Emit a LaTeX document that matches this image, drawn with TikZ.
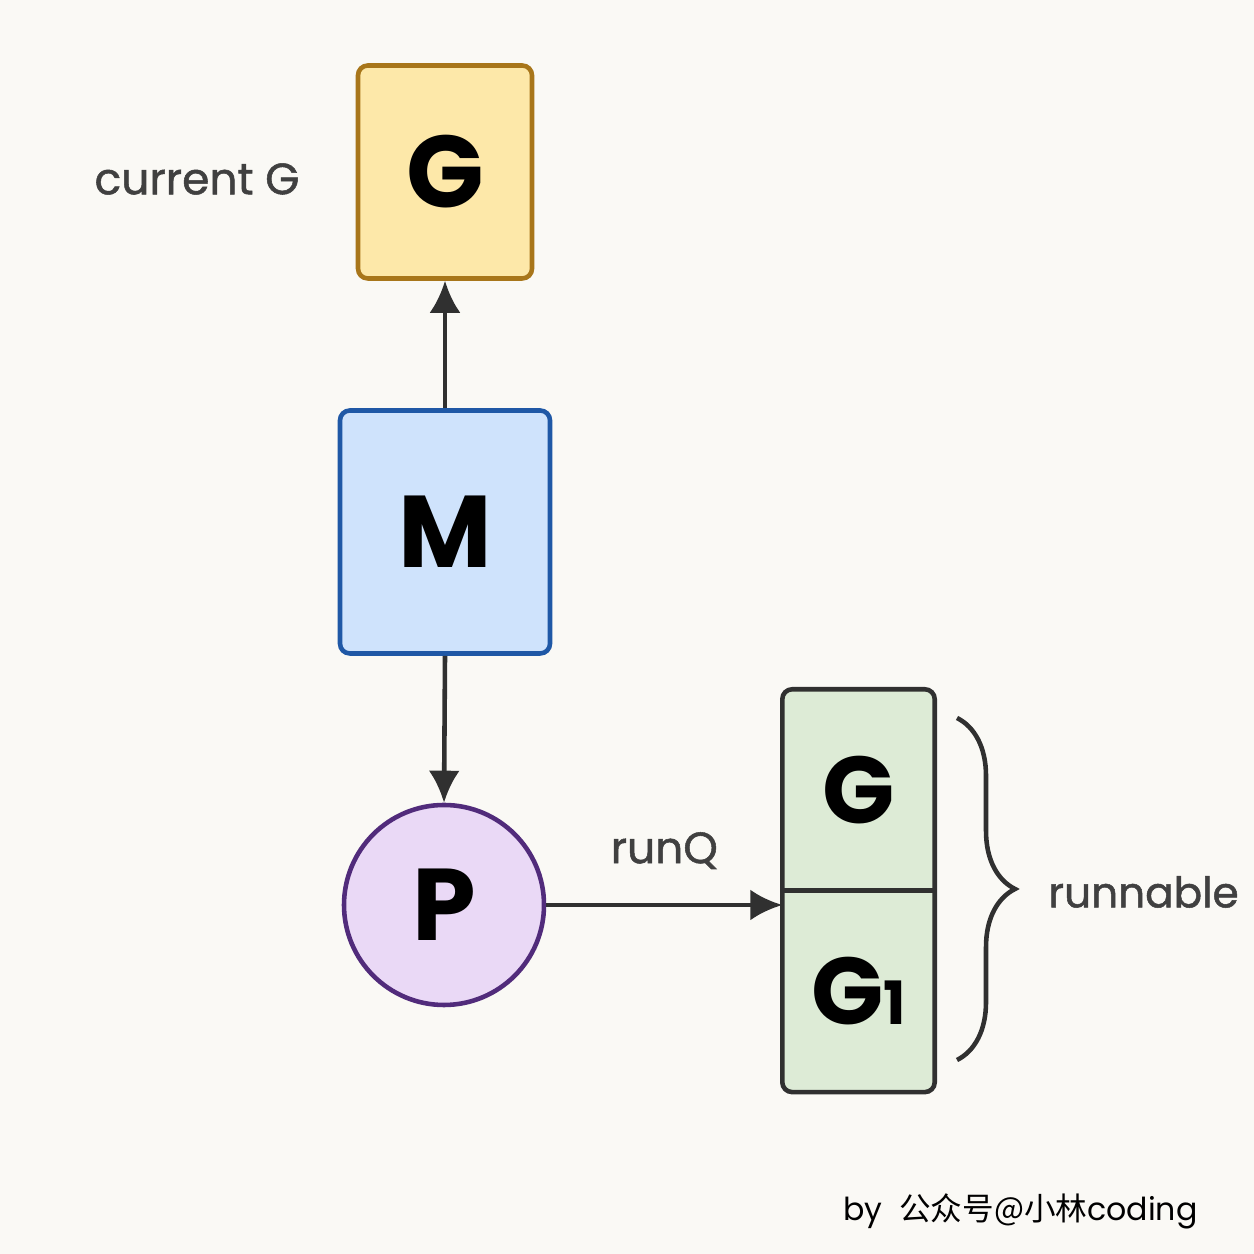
\documentclass[tikz,border=0pt]{standalone}
\usepackage{fontspec}
\setmainfont{Poppins}
\newfontfamily\lblfont{Poppins}[FakeBold=1.2]
\newfontfamily\cjk{Noto Sans CJK SC}
\usetikzlibrary{arrows.meta,positioning,calc,backgrounds,decorations.pathreplacing}
\definecolor{paper}{HTML}{FAF9F5}
\definecolor{gfill}{HTML}{FDE8A9}
\definecolor{gline}{HTML}{A8761A}
\definecolor{mfill}{HTML}{CFE3FC}
\definecolor{mline}{HTML}{1F58A6}
\definecolor{pfill}{HTML}{EAD9F6}
\definecolor{pline}{HTML}{512B7B}
\definecolor{qfill}{HTML}{DDEBD6}
\definecolor{ink}{HTML}{303030}
\definecolor{txt}{HTML}{404040}

\begin{document}
\begin{tikzpicture}[
      box/.style={draw, rounded corners=2.8pt, line width=1.3pt, align=center,
                  font=\fontsize{29}{33}\selectfont\bfseries},
      cell/.style={minimum width=1.51cm, minimum height=2.0cm, inner sep=0pt,
                   font=\fontsize{27}{30}\selectfont\bfseries},
      lbl/.style={text=txt, font=\fontsize{12.5}{15}\selectfont\lblfont},
      link/.style={draw=ink, line width=1.3pt, -{Latex[length=3.2mm,width=3.1mm]}}
    ]
    \begin{scope}[on background layer]
      \fill[paper] (0,0) rectangle (12.54,12.54);
    \end{scope}
    \useasboundingbox (0,0) rectangle (12.54,12.54);

    % --- machine, current goroutine, processor -----------------------------
    \node[box, fill=gfill, draw=gline, minimum width=1.74cm, minimum height=2.13cm]
          (gcur) at (4.45,10.82) {G};
    \node[lbl] (curlbl) at (1.97,10.75) {current G};
    \node[box, fill=mfill, draw=mline, minimum width=2.1cm, minimum height=2.43cm]
          (m) at (4.45,7.22) {M};
    \node[circle, draw=pline, fill=pfill, line width=1.3pt, minimum size=2.0cm,
          font=\fontsize{29}{33}\selectfont\bfseries] (p) at (4.44,3.49) {P};

    % --- local run queue ---------------------------------------------------
    \node[cell] (q1) at (8.585,4.64) {G};
    \node[cell, below=0pt of q1] (q2) {G\fontsize{17}{20}\selectfont 1};
    \begin{scope}[on background layer]
      \draw[fill=qfill, draw=ink, line width=1.3pt, rounded corners=2.8pt]
            (q1.north west) rectangle (q2.south east);
    \end{scope}
    \draw[ink, line width=1.3pt] (q1.south west) -- (q1.south east);

    % --- links -------------------------------------------------------------
    \draw[link] (m.north) -- (gcur.south);
    \draw[link] (m.south) -- (p.north);
    \draw[link] (p.east) -- node[lbl, above=2.2mm] {runQ} (p.east -| q1.west);

    % --- brace -------------------------------------------------------------
    \coordinate (bt) at (9.57,5.36);
    \coordinate (bb) at (9.57,1.94);
    \draw[ink, line width=1.3pt, decorate,
          decoration={brace, amplitude=5.8mm}] (bt) -- (bb);
    \node[lbl, anchor=west, font=\fontsize{12}{15}\selectfont\lblfont]
          (runlbl) at (10.36,3.62) {runnable};

    % --- footer ------------------------------------------------------------
    \node[anchor=east, text=black, font=\fontsize{9}{12}\selectfont]
          (sig) at (12.1,0.43) {by\ \ {\cjk 公众号@小林}coding};
  \end{tikzpicture}
\end{document}
